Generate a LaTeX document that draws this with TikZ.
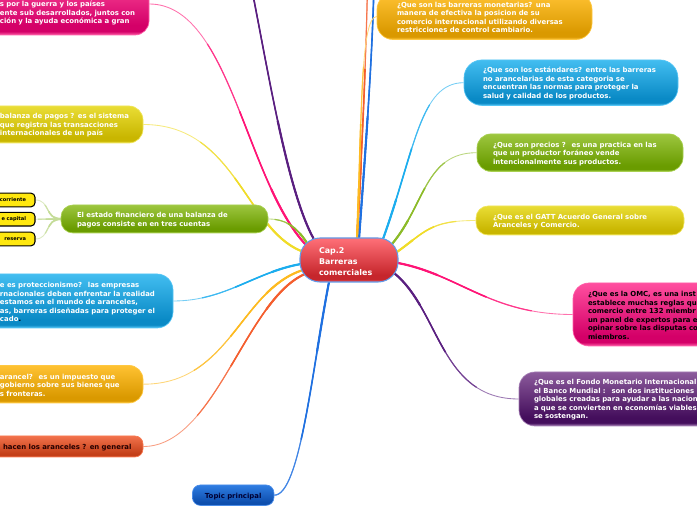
\documentclass[tikz,border=0pt]{standalone}
\usepackage{fontspec}
\setmainfont{DejaVu Sans}
\pgfdeclarelayer{bg}
\pgfsetlayers{bg,main}
\newcommand{\mkshade}[4]{\pgfdeclareverticalshading{#1}{100bp}{color(0bp)=(#4); color(25bp)=(#4); color(28bp)=(#3); color(33bp)=(#3); color(75bp)=(#2); color(100bp)=(#2)}}
\definecolor{pkT}{HTML}{FF4F9F}\definecolor{pkB}{HTML}{D40068}\definecolor{pkE}{HTML}{FF5FA8}
\definecolor{ylT}{HTML}{E9DD35}\definecolor{ylB}{HTML}{C9B600}\definecolor{ylE}{HTML}{F0E55A}
\definecolor{grT}{HTML}{9DC63F}\definecolor{grB}{HTML}{6A9C00}\definecolor{grE}{HTML}{A8D050}
\definecolor{blT}{HTML}{42BDF0}\definecolor{blB}{HTML}{0A8AC6}\definecolor{blE}{HTML}{55C5F5}
\definecolor{orT}{HTML}{FFC232}\definecolor{orB}{HTML}{DA9900}\definecolor{orE}{HTML}{FFC840}
\definecolor{rdT}{HTML}{F2724C}\definecolor{rdB}{HTML}{C43F18}\definecolor{rdE}{HTML}{F87850}
\definecolor{tpT}{HTML}{2F7DE2}\definecolor{tpB}{HTML}{0E4FAE}\definecolor{tpE}{HTML}{4A8CE8}
\definecolor{puT}{HTML}{8C5B9C}\definecolor{puB}{HTML}{440E5C}\definecolor{puE}{HTML}{A57FB5}
\definecolor{ceT}{HTML}{FF7078}\definecolor{ceB}{HTML}{C6262C}\definecolor{ceE}{HTML}{F06A70}
\definecolor{cPk}{HTML}{FF1476}\definecolor{cYl}{HTML}{F0DC28}\definecolor{cGr}{HTML}{8CBB28}
\definecolor{cBl}{HTML}{1CADEE}\definecolor{cOr}{HTML}{FDBA20}\definecolor{cRd}{HTML}{F45E2E}
\definecolor{cTp}{HTML}{1F70E0}\definecolor{cPu}{HTML}{5A1F80}\definecolor{cLg}{HTML}{C4DC98}
\definecolor{smY}{HTML}{FFE80F}
\mkshade{spk}{pkT}{pkB}{pkE}\mkshade{syl}{ylT}{ylB}{ylE}\mkshade{sgr}{grT}{grB}{grE}
\mkshade{sbl}{blT}{blB}{blE}\mkshade{sor}{orT}{orB}{orE}\mkshade{srd}{rdT}{rdB}{rdE}
\mkshade{stp}{tpT}{tpB}{tpE}\mkshade{spu}{puT}{puB}{puE}\mkshade{sce}{ceT}{ceB}{ceE}
\newcommand{\ind}{\hspace*{11.25pt}}
\tikzset{
  mbox/.style n args={5}{shading=s#1, draw=#1E, line width=.5pt, rounded corners=#5*0.75pt,
    minimum width=#2*0.75pt, minimum height=#3*0.75pt, text width=(#2-2*#4)*0.75pt,
    inner sep=0pt, align=left, text=white, font=\bfseries\fontsize{5.2pt}{6.35pt}\selectfont,
    execute at begin node={\rule{0pt}{5.5pt}}},
  conn/.style 2 args={draw=#1!60!white, line width=.65pt,
    postaction={draw=#1!85!white, line width=.9pt, dash pattern=on 0.75*#2*0.75pt off 9000pt},
    postaction={draw=#1, line width=1.2pt, dash pattern=on 0.5*#2*0.75pt off 9000pt},
    postaction={draw=#1, line width=1.6pt, dash pattern=on 0.22*#2*0.75pt off 9000pt}},
  leaf/.style={conn={cLg}{30}},
  tiny/.style={draw=black, line width=.8pt, fill=smY, rounded corners=3pt, minimum width=56.25pt,
    minimum height=10.2pt, text width=42.75pt, inner sep=0pt, align=right, text=black,
    font=\bfseries\fontsize{3.8pt}{5pt}\selectfont}
}
\begin{document}
\begin{tikzpicture}[x=0.75pt,y=-0.75pt]
\useasboundingbox (0,0) rectangle (697,520);
\clip (0,0) rectangle (697,520);
% central
\node[mbox={ce}{98}{44}{19}{20}, draw=cTp!70!white, line width=.8pt, font=\bfseries\fontsize{5.95pt}{8.25pt}\selectfont, execute at begin node={\rule{0pt}{7.2pt}}] (c) at (349,260) {Cap.2\\Barreras\\comerciales};
% left side
\node[mbox={pk}{169}{62}{5}{14}] (guerra) at (64.5,4) {\mbox{}\\\mbox{}\\\ind s por la guerra y los países\\\ind ente sub desarrollados, juntos con\\\ind ción y la ayuda económica a gran};
\node[mbox={yl}{163}{37}{5}{14}] (balanza) at (61.5,124.5) {\ind balanza de pagos ? es el sistema\\\ind que registra las transacciones\\\ind internacionales de un país};
\node[mbox={gr}{207}{28}{16}{12}] (estado) at (164.5,219) {El estado financiero de una balanza de\\pagos consiste en en tres cuentas};
\node[tiny] (corr) at (-2.5,200) {corriente};
\node[tiny] (capi) at (-2.5,219.2) {e capital};
\node[tiny] (rese) at (-2.5,239) {reserva};
\node[mbox={bl}{193}{54}{5}{16}] (prot) at (76.5,301) {\ind e es proteccionismo?~ las empresas\\\ind rnacionales deben enfrentar la realidad\\\ind estamos en el mundo de aranceles,\\\ind as, barreras diseñadas para proteger el\\\ind cado\textcolor{black}{.}};
\node[mbox={or}{163}{37.5}{5}{14}] (aran) at (61.5,384.2) {\ind arancel?~ es un impuesto que\\\ind gobierno sobre sus bienes que\\\ind s fronteras.};
\node[mbox={rd}{163}{21}{5}{8}, text=black!85!red] (hacen) at (61.5,446.5) {\ind\hspace*{2.25pt}hacen los aranceles ? en general};
\node[mbox={tp}{81.5}{20.5}{5}{8}, align=center, text=black!80!blue] (topic) at (233.2,495.2) {Topic principal};
% right side
\node[mbox={or}{215}{46}{20}{16}] (mone) at (484.5,16.5) {¿Que son las barreras monetarias? una\\manera de efectiva la posicion de su\\comercio internacional utilizando diversas\\restricciones de control cambiario.};
\node[mbox={bl}{214}{45.5}{19}{18}] (esta) at (571,82.7) {¿Que son los estándares? entre las barreras\\no arancelarias de esta categoria se\\encuentran las normas para proteger la\\salud y calidad de los productos.};
\node[mbox={gr}{206}{37.5}{16}{14}] (prec) at (580,152.7) {¿Que son precios ?~ es una practica en las\\que un productor foráneo vende\\intencionalmente sus productos.};
\node[mbox={yl}{208}{29}{17}{12}] (gatt) at (580,220.5) {¿Que es el GATT Acuerdo General sobre\\Aranceles y Comercio.};
\node[mbox={pk}{227}{63}{15}{16}, text=black] (omc) at (686.5,314.5) {¿Que es la OMC, es una inst\\establece muchas reglas qu\\comercio entre 132 miembr\\un panel de expertos para e\\opinar sobre las disputas co\\miembros.};
\node[mbox={pu}{281}{54}{15}{16}] (fmi) at (659.5,399) {¿Que es el Fondo Monetario Internacional\\el Banco Mundial :~ son dos instituciones\\globales creadas para ayudar a las nacion\\a que se convierten en economías viables\\se sostengan.};
% off-page ends
\coordinate (offa) at (251,-15);
\coordinate (offb) at (367.5,-15);
\coordinate (offc) at (374,-15);
\begin{pgfonlayer}{bg}
\clip (0,0) rectangle (697,520);
\draw[conn={cPu}{560}] (c.north west) ++(14,1) coordinate (pa) .. controls (287,190) and (268,70) .. (offa);
\draw[conn={cRd}{340}] (357,239) .. controls (362,150) and (366,60) .. (offb);
\draw[conn={cTp}{560}] (359,239) .. controls (367,130) and (372,60) .. (offc);
\draw[conn={cOr}{230}] (357,239) .. controls (362,120) and (360,17) .. (mone.west);
\draw[conn={cBl}{190}] (383,239) .. controls (415,150) and (420,82.7) .. (esta.west);
\draw[conn={cGr}{130}] (392,244) .. controls (425,205) and (425,152.7) .. (prec.west);
\draw[conn={cYl}{90}] (397,252) .. controls (425,232) and (430,220.5) .. (gatt.west);
\draw[conn={cPk}{190}] (398,263) .. controls (460,275) and (490,314.5) .. (omc.west);
\draw[conn={cPu}{190}] (394,273) .. controls (440,310) and (440,399) .. (fmi.west);
\draw[conn={cPk}{300}] (306,245) .. controls (245,180) and (230,4) .. (guerra.east);
\draw[conn={cYl}{200}] (301,251) .. controls (245,228) and (235,124.5) .. (balanza.east);
\draw[conn={cGr}{55}] (307,243) .. controls (296,226) and (285,219) .. (estado.east);
\draw[conn={cBl}{140}] (301,264) .. controls (255,272) and (225,301) .. (prot.east);
\draw[conn={cOr}{200}] (303,270) .. controls (240,290) and (230,384.2) .. (aran.east);
\draw[conn={cRd}{240}] (305,274) .. controls (245,300) and (215,446.5) .. (hacen.east);
\draw[conn={cTp}{320}] (329,282) .. controls (312,370) and (300,495.2) .. (topic.east);
\draw[leaf] (estado.west) .. controls (45,219) and (50,200) .. (corr.east);
\draw[leaf] (estado.west) -- (capi.east);
\draw[leaf] (estado.west) .. controls (45,219) and (50,239) .. (rese.east);
\end{pgfonlayer}
\end{tikzpicture}
\end{document}
